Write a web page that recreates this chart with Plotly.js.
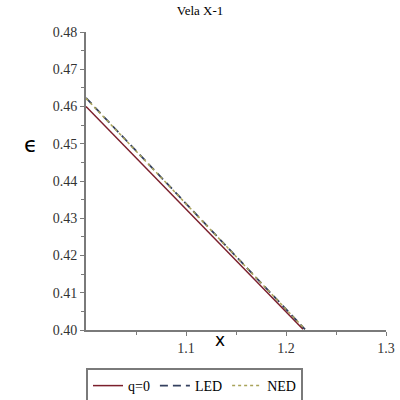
<!DOCTYPE html>
<html>
<head>
<meta charset="utf-8">
<script src="https://cdn.plot.ly/plotly-3.0.1.min.js"></script>
<style>
  html, body { margin: 0; padding: 0; background: #fff; }
  #chart { width: 400px; height: 400px; }
</style>
</head>
<body>
<div id="chart"></div>
<script>
// values
var xQ0 = [1.0, 1.05, 1.1, 1.15, 1.2, 1.217];
var yQ0 = [0.4600, 0.4462, 0.4324, 0.4186, 0.4048, 0.4002];
var xLED = [1.0, 1.05, 1.1, 1.15, 1.2, 1.219];
var yLED = [0.4623, 0.4481, 0.4339, 0.4197, 0.4055, 0.4002];
var xNED = [1.0, 1.05, 1.1, 1.15, 1.2, 1.219];
var yNED = [0.4622, 0.4480, 0.4338, 0.4196, 0.4054, 0.4002];
var names = ["q=0", "LED", "NED"];
var xTicks = [1.1, 1.2, 1.3];
var yTicks = [0.40, 0.41, 0.42, 0.43, 0.44, 0.45, 0.46, 0.47, 0.48];

var serif = "'Liberation Serif', 'Times New Roman', serif";

var traces = [
  {x: xQ0, y: yQ0, name: names[0], mode: 'lines', line: {color: '#7b1f2c', width: 1.5}},
  {x: xLED, y: yLED, name: names[1], mode: 'lines', line: {color: '#34405f', width: 1.8, dash: '8px,5px'}},
  {x: xNED, y: yNED, name: names[2], mode: 'lines', line: {color: '#a9a35a', width: 1.5, dash: 'dot'}}
];

var axisCommon = {
  showline: true, linecolor: '#7a7a7a', linewidth: 2,
  ticks: 'outside', ticklen: 4, tickcolor: '#7a7a7a', tickwidth: 1,
  showgrid: false, zeroline: false, fixedrange: true,
  tickfont: {family: serif, size: 14, color: '#333'}
};

var layout = {
  width: 400, height: 400,
  margin: {l: 86, r: 14, t: 32, b: 70},
  paper_bgcolor: '#fff', plot_bgcolor: '#fff',
  title: {text: 'Vela X-1', font: {family: serif, size: 13, color: '#000'},
          xref: 'container', x: 0.5, y: 0.975, yanchor: 'middle'},
  xaxis: Object.assign({}, axisCommon, {
    range: [1.0, 1.3], tickvals: xTicks, ticktext: xTicks.map(function(v){return v.toFixed(1);}),
    minor: {tickvals: [1.05, 1.15, 1.25], ticks: 'outside', ticklen: 3, tickcolor: '#7a7a7a'}
  }),
  yaxis: Object.assign({}, axisCommon, {
    range: [0.40, 0.48], tickvals: yTicks, ticktext: yTicks.map(function(v){return v.toFixed(2);}),
    minor: {dtick: 0.005, ticks: 'outside', ticklen: 3, tickcolor: '#7a7a7a'}
  }),
  showlegend: true,
  legend: {
    orientation: 'h', xref: 'container', yref: 'container',
    x: 0.215, y: 0.08, xanchor: 'left', yanchor: 'top',
    bordercolor: '#7a7a7a', borderwidth: 2, bgcolor: '#fff',
    font: {family: serif, size: 14, color: '#000'},
    itemwidth: 30, tracegroupgap: 0
  },
  annotations: [
    {text: 'ϵ', xref: 'paper', yref: 'paper', x: -0.213, y: 0.621, showarrow: false,
     font: {family: 'DejaVu Sans, sans-serif', size: 22, color: '#000'}},
    {text: 'x', xref: 'paper', yref: 'paper', x: 0.447, y: -0.074, showarrow: false,
     font: {family: 'DejaVu Sans, sans-serif', size: 17, color: '#000'}}
  ]
};

Plotly.newPlot(document.getElementById('chart'), traces, layout, {displayModeBar: false, staticPlot: true});
</script>
</body>
</html>
